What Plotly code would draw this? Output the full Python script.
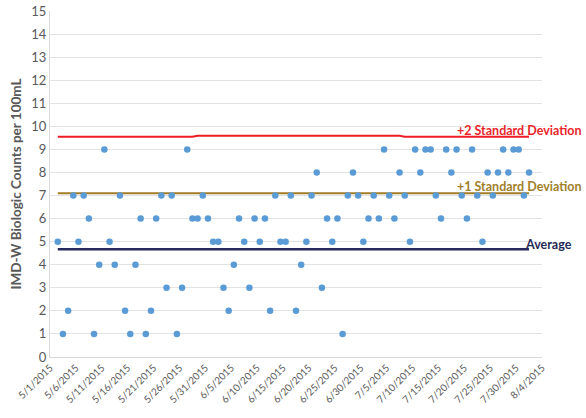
import pandas as pd
import plotly.graph_objs as go

# daily sample dates and IMD-W counts
dates = pd.date_range("2015-05-02", "2015-08-01", freq="D")
counts = [
    5, 1, 2, 7, 5, 7, 6, 1, 4, 9, 5, 4, 7, 2, 1, 4, 6, 1, 2, 6, 7, 3, 7, 1, 3, 9, 6, 6, 7, 6,
    5, 5, 3, 2, 4, 6, 5, 3, 6, 5, 6, 2, 7, 5, 5, 7, 2, 4, 5, 7, 8, 3, 6, 5, 6, 1, 7, 8, 7, 5, 6,
    7, 6, 9, 7, 6, 8, 7, 5, 9, 8, 9, 9, 7, 6, 9, 8, 9, 7, 6, 9, 7, 5, 8, 7, 8, 9, 8, 9, 9, 7, 8,
]

# reference levels
average = [4.67] * 92
plus_1_sd = [7.1] * 92
plus_2_sd = [9.55] * 27 + [9.59] * 40 + [9.55] * 25

tick_labels = ["5/1/2015", "5/6/2015", "5/11/2015", "5/16/2015", "5/21/2015", "5/26/2015",
               "5/31/2015", "6/5/2015", "6/10/2015", "6/15/2015", "6/20/2015", "6/25/2015",
               "6/30/2015", "7/5/2015", "7/10/2015", "7/15/2015", "7/20/2015", "7/25/2015",
               "7/30/2015", "8/4/2015"]
y_ticks = list(range(0, 16))

FONT = "Lato"
GRAY = "#595959"

# excel date axis puts each point in the middle of its day slot
x = dates + pd.Timedelta(hours=12)
tick_vals = pd.to_datetime(tick_labels, format="%m/%d/%Y")

fig = go.Figure()
fig.add_trace(go.Scatter(x=x, y=plus_2_sd, mode="lines", line=dict(color="#ee1c25", width=2),
                         hoverinfo="skip"))
fig.add_trace(go.Scatter(x=x, y=plus_1_sd, mode="lines", line=dict(color="#a37d26", width=2),
                         hoverinfo="skip"))
fig.add_trace(go.Scatter(x=x, y=average, mode="lines", line=dict(color="#262a5e", width=2.5),
                         hoverinfo="skip"))
fig.add_trace(go.Scatter(x=x, y=counts, mode="markers",
                         marker=dict(color="#5b9bd5", size=6.5)))

fig.add_annotation(x=1.084, xref="paper", y=9.84, yref="y", text="<b>+2 Standard Deviation</b>",
                   showarrow=False, xanchor="right", yanchor="middle",
                   font=dict(family=FONT, size=12.5, color="#e8262c"))
fig.add_annotation(x=1.084, xref="paper", y=7.38, yref="y", text="<b>+1 Standard Deviation</b>",
                   showarrow=False, xanchor="right", yanchor="middle",
                   font=dict(family=FONT, size=12.5, color="#a07f2b"))
fig.add_annotation(x=1.066, xref="paper", y=4.89, yref="y", text="<b>Average</b>",
                   showarrow=False, xanchor="right", yanchor="middle",
                   font=dict(family=FONT, size=12.5, color="#1f2a56"))

fig.update_layout(
    width=586, height=418,
    margin=dict(l=50, r=44, t=11, b=61, autoexpand=False),
    plot_bgcolor="white", paper_bgcolor="white",
    showlegend=False, hovermode=False,
    font=dict(family=FONT, color=GRAY),
)
fig.update_xaxes(
    range=[tick_vals[0], tick_vals[-1]],
    tickvals=tick_vals, ticktext=tick_labels, tickangle=-45,
    tickfont=dict(size=10, color=GRAY),
    showgrid=False, showline=True, linecolor="#d9d9d9", linewidth=1,
    ticks="", zeroline=False, automargin=False,
)
fig.update_yaxes(
    range=[0, 15], tickvals=y_ticks,
    tickfont=dict(size=13, color=GRAY),
    showgrid=True, gridcolor="#e3e3e3", gridwidth=1,
    showline=True, linecolor="#d9d9d9", linewidth=1,
    ticks="", zeroline=False, automargin=False, ticklabeloverflow="allow",
    title=dict(text="<b>IMD-W Biologic Counts per 100mL</b>", font=dict(size=13.5, color=GRAY),
               standoff=6),
)

# drop the default 8px body margin so the figure fills the window
fig.write_html("out.html", config={"displayModeBar": False},
               post_script="document.body.style.margin = '0px';")
